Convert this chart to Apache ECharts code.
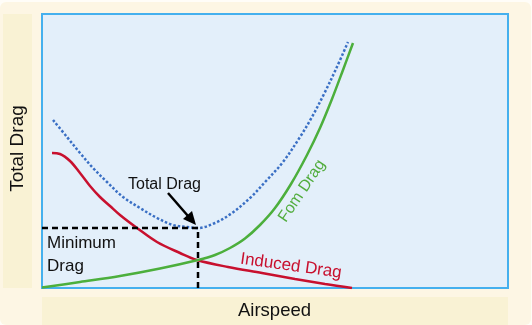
<!DOCTYPE html>
<html>
<head>
<meta charset="utf-8">
<script src="https://cdn.jsdelivr.net/npm/echarts@6/dist/echarts.min.js"></script>
<style>
html,body{margin:0;padding:0;background:#fffdf8;}
#c{width:532px;height:325px;}
</style>
</head>
<body>
<div id="c"></div>
<script>
// Data (x: airspeed units, y: drag units)
var totalDrag = [[11,168],[25,151],[38,135],[51,120],[65,106],[81,91],[98,80],[115,70],[131,63],[145,61],[156,60],[173,65],[190,75],[208,90],[224,107],[241,126],[258,151],[270,171],[282,194],[294,219],[306,246]];
var inducedDrag = [[10,135],[18,134],[28,127],[38,115],[48,102],[58,91],[68,82],[78,73],[95,60],[115,46],[138,35],[155,28],[186,21],[220,15],[253,9],[283,4],[310,0]];
var formDrag = [[0,0.5],[38,6],[78,12],[118,19.5],[156,28],[173,33],[188,40],[203,49.5],[218,63],[233,80],[249,104],[265,133],[278,160],[290,189],[301,218],[311,245]];
var minDragX = 156;
var minDragY = 60;
var xMax = 466;
var yMax = 274;

var FONT = '"Liberation Sans", Arial, Helvetica, sans-serif';
var chart = echarts.init(document.getElementById('c'), null, {renderer: 'canvas'});

var option = {
  backgroundColor: 'transparent',
  animation: false,
  grid: {left: 42, top: 14, width: 466, height: 274, show: true,
         backgroundColor: '#e3effa', borderColor: '#45b0ee', borderWidth: 2, z: 1},
  xAxis: {type: 'value', min: 0, max: xMax, show: false},
  yAxis: {type: 'value', min: 0, max: yMax, show: false},
  graphic: [
    {type: 'rect', z: -10, shape: {x: 0, y: 2, width: 531, height: 323, r: 6}, style: {fill: '#fdf6e4'}},
    {type: 'rect', z: -5, shape: {x: 3, y: 14, width: 29, height: 274}, style: {fill: '#f9f2d4'}},
    {type: 'rect', z: -5, shape: {x: 42, y: 297, width: 466, height: 28}, style: {fill: '#f9f2d4'}},
    {type: 'text', z: 50, x: 274.5, y: 311, style: {text: 'Airspeed', font: '18.5px ' + FONT, fill: '#111', align: 'center', verticalAlign: 'middle'}},
    {type: 'text', z: 50, x: 18, y: 148.5, rotation: Math.PI / 2, style: {text: 'Total Drag', font: '19px ' + FONT, fill: '#111', align: 'center', verticalAlign: 'middle'}},
    {type: 'text', z: 50, x: 128, y: 184.5, style: {text: 'Total Drag', font: '16px ' + FONT, fill: '#111', align: 'left', verticalAlign: 'middle'}},
    {type: 'text', z: 50, x: 47, y: 243, style: {text: 'Minimum', font: '17px ' + FONT, fill: '#111', align: 'left', verticalAlign: 'middle'}},
    {type: 'text', z: 50, x: 47, y: 266, style: {text: 'Drag', font: '17px ' + FONT, fill: '#111', align: 'left', verticalAlign: 'middle'}},
    {type: 'text', z: 50, x: 302, y: 191, rotation: 56 * Math.PI / 180, style: {text: 'Fom Drag', font: '16px ' + FONT, fill: '#52ad3e', align: 'center', verticalAlign: 'middle'}},
    {type: 'text', z: 50, x: 291, y: 266, rotation: -8 * Math.PI / 180, style: {text: 'Induced Drag', font: '17px ' + FONT, fill: '#c8102e', align: 'center', verticalAlign: 'middle'}},
    {type: 'line', z: 50, shape: {x1: 168, y1: 193, x2: 188, y2: 216}, style: {stroke: '#000', lineWidth: 2.5}},
    {type: 'polygon', z: 50, shape: {points: [[196, 225], [183, 219], [192, 211]]}, style: {fill: '#000'}}
  ],
  series: [
    {type: 'line', name: 'Induced Drag', data: inducedDrag, smooth: 0.35, showSymbol: false, z: 5,
     lineStyle: {color: '#c8102e', width: 2.5}},
    {type: 'line', name: 'Form Drag', data: formDrag, smooth: 0.35, showSymbol: false, z: 6,
     lineStyle: {color: '#4caf3c', width: 2.5}},
    {type: 'line', name: 'Total Drag', data: totalDrag, smooth: 0.35, showSymbol: false, z: 7,
     lineStyle: {color: '#3a6fc4', width: 2.5, type: [2.5, 2], cap: 'butt'}},
    {type: 'line', name: 'minH', data: [[0, minDragY], [minDragX, minDragY], [minDragX, 0]], showSymbol: false, z: 8,
     lineStyle: {color: '#000', width: 2.5, type: [6, 4]}}
  ]
};
chart.setOption(option);
</script>
</body>
</html>
